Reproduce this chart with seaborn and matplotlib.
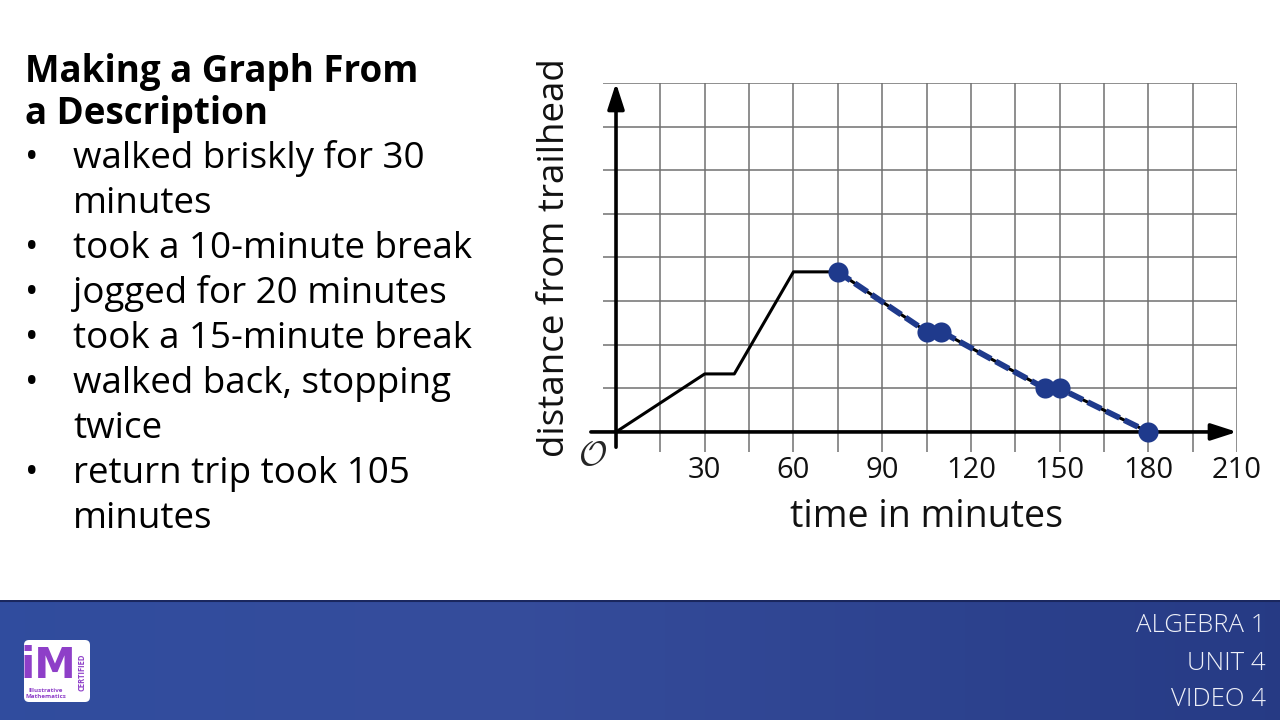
import matplotlib.pyplot as plt
import numpy as np
import seaborn as sns
from matplotlib.patches import FancyBboxPatch

# trip data (time in minutes, distance in grid units)
trip_time = [0, 30, 40, 60, 75, 105, 110, 145, 150, 180]
trip_dist = [0, 1.33, 1.33, 3.67, 3.67, 2.3, 2.3, 1.0, 1.0, 0]
return_time = [75, 105, 110, 145, 150, 180]
return_dist = [3.67, 2.3, 2.3, 1.0, 1.0, 0]

x_ticks = [30, 60, 90, 120, 150, 180, 210]
x_grid = list(range(0, 211, 15))
y_grid = list(range(0, 9))

title_lines = ["Making a Graph From", "a Description"]
bullet_lines = [
    ("walked briskly for 30", True),
    ("minutes", False),
    ("took a 10-minute break", True),
    ("jogged for 20 minutes", True),
    ("took a 15-minute break", True),
    ("walked back, stopping", True),
    ("twice", False),
    ("return trip took 105", True),
    ("minutes", False),
]
banner_lines = ["ALGEBRA 1", "UNIT 4", "VIDEO 4"]

W, H = 1280, 720
BLUE = "#1f3a8c"


def px(x, y):
    """pixel coords (top-left origin) -> figure fraction"""
    return x / W, 1 - y / H


sns.set_theme(style="white")
plt.rcParams["font.family"] = ["Open Sans", "DejaVu Sans"]

fig = plt.figure(figsize=(12.8, 7.2), dpi=100)
fig.patch.set_facecolor("white")

# ---- graph ----
left, top, right, bottom = 603, 83, 1237, 452
ax = fig.add_axes([left / W, 1 - bottom / H, (right - left) / W, (bottom - top) / H])
ax.set_xlim(-4.4, 210)
ax.set_ylim(-0.46, 8)
for s in ax.spines.values():
    s.set_visible(False)
ax.set_xticks([])
ax.set_yticks([])
ax.vlines(x_grid[1:], -0.46, 8, color="#707070", lw=1.1, zorder=1)
ax.hlines(y_grid[1:], -4.4, 210, color="#707070", lw=1.1, zorder=1)

# axes with arrows
ax.annotate("", xy=(210, 0), xytext=(-8.5, 0),
            arrowprops=dict(arrowstyle="-|>,head_length=1.3,head_width=0.42",
                            color="black", lw=2.6, shrinkA=0, shrinkB=0),
            annotation_clip=False, zorder=3)
ax.annotate("", xy=(0, 8), xytext=(0, -0.35),
            arrowprops=dict(arrowstyle="-|>,head_length=1.3,head_width=0.42",
                            color="black", lw=2.6, shrinkA=0, shrinkB=0),
            annotation_clip=False, zorder=3)

sns.lineplot(x=trip_time, y=trip_dist, ax=ax, color="black", lw=2.2,
             estimator=None, sort=False, zorder=4)
sns.lineplot(x=return_time, y=return_dist, ax=ax, color=BLUE, lw=4.2,
             estimator=None, sort=False, dashes=False, zorder=5,
             linestyle=(0, (2.6, 0.9)))
sns.scatterplot(x=return_time, y=return_dist, ax=ax, color=BLUE, s=210,
                edgecolor=BLUE, linewidth=0, zorder=6)

for t in x_ticks:
    ax.text(t, -0.55, str(t), ha="center", va="top", fontsize=21,
            color="#111111", clip_on=False)
ax.text(-8, -0.55, r"$\mathcal{O}$", ha="center", va="center", fontsize=25,
        math_fontfamily="cm", clip_on=False)

fig.text(*px(926, 517), "time in minutes", ha="center", va="center",
         fontsize=27, color="#111111")
fig.text(*px(555, 258), "distance from trailhead", ha="center", va="center",
         rotation=90, fontsize=26.5, color="#111111")

# ---- left text ----
for i, line in enumerate(title_lines):
    fig.text(*px(25, 82 + 42 * i), line, fontsize=26.5, fontweight="bold",
             va="baseline", ha="left", color="black")
for i, (line, bullet) in enumerate(bullet_lines):
    y = 168 + 45 * i
    if bullet:
        fig.text(*px(25, y), "•", fontsize=26, va="baseline", color="black")
    fig.text(*px(73, y), line, fontsize=26.5, va="baseline", color="black")

# ---- bottom banner ----
bax = fig.add_axes([0, 0, 1, 120 / H])
grad = np.linspace(0, 1, 256)
colors = np.array([[0.19, 0.30, 0.62], [0.21, 0.30, 0.61], [0.15, 0.23, 0.52]])
img = np.array([np.interp(grad, [0, 0.4, 1], colors[:, c]) for c in range(3)]).T
bax.imshow(img[np.newaxis, :, :], aspect="auto", extent=[0, W, 0, 120])
bax.set_xlim(0, W)
bax.set_ylim(0, 120)
bax.axhline(119.5, color="#1a275e", lw=1.5)
bax.axis("off")

logo = FancyBboxPatch((24, 18), 66, 62, boxstyle="round,pad=0,rounding_size=5",
                      facecolor="white", edgecolor="none")
bax.add_patch(logo)
bax.text(48, 54, "iM", ha="center", va="center", fontsize=30,
         fontweight="bold", color="#8e3fc8", family="DejaVu Sans Condensed")
bax.text(46, 30, "Illustrative", ha="center", va="center", fontsize=4.5,
         color="#8e3fc8", fontweight="bold")
bax.text(46, 24, "Mathematics", ha="center", va="center", fontsize=4.5,
         color="#8e3fc8", fontweight="bold")
bax.text(82, 48, "CERTIFIED", ha="center", va="center", fontsize=5.5,
         rotation=90, color="#8e3fc8", fontweight="bold")

for i, line in enumerate(banner_lines):
    bax.text(1266, 94 - 37 * i, line, ha="right", va="center", fontsize=18.5,
             color="#eef0f8", fontweight="light")

fig.savefig("out.png", dpi=100)
